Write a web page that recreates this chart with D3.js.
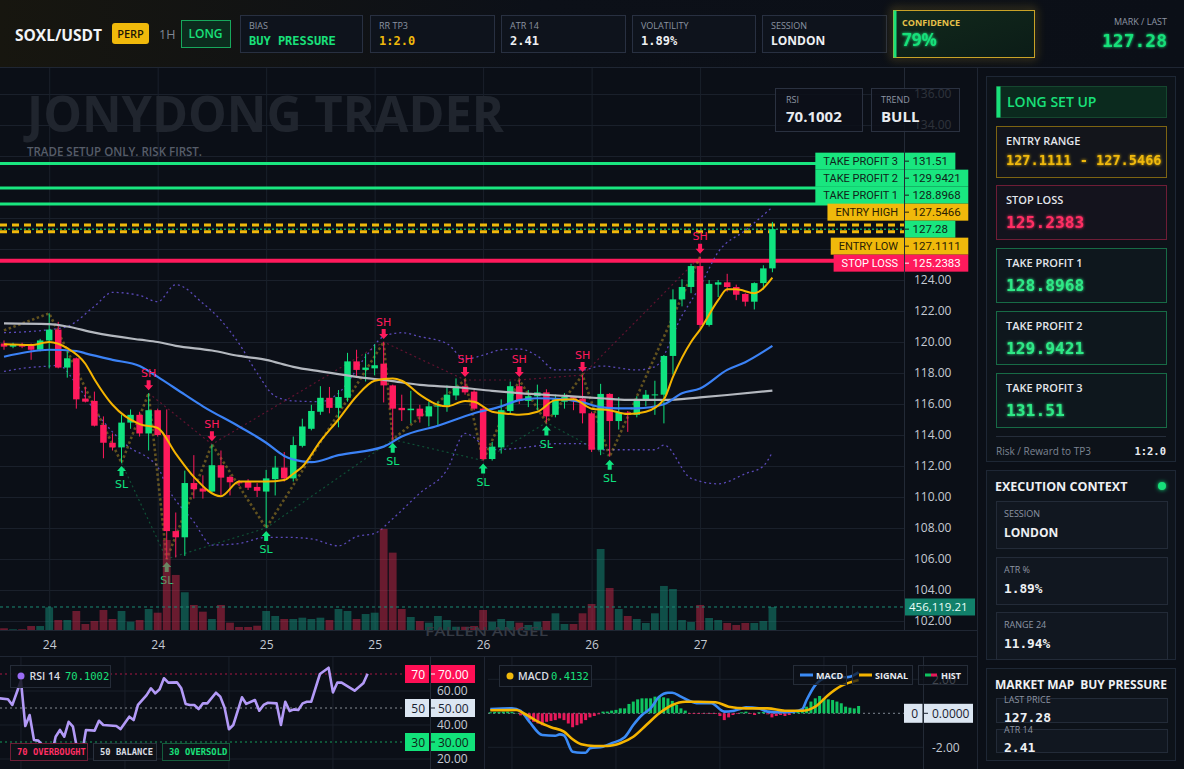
<!DOCTYPE html>
<html>
<head>
<meta charset="utf-8">
<script src="https://cdn.jsdelivr.net/npm/d3@7"></script>
<style>
body { margin: 0; background: #0b0f17; overflow: hidden; }
svg { display: block; }
</style>
</head>
<body>
<script>
//chart data (1H candles, index 0..85)
var opens = [119.9,119.7,119.85,119.76,119.5,120.1,120.8,118.35,118.95,116.35, 116.2,114.65,113.5,113.2,114.8,115.3,114.1,115.6,114.0,107.8, 107.4,110.9,110.55,110.35,112.05,111.3,110.95,111.0,110.65,110.35, 111.15,111.9,111.2,113.3,114.4,115.5,116.4,115.75,116.4,118.75, 118.2,118.3,118.6,117.2,115.75,115.6,115.7,115.2,115.85,115.9, 116.55,117.15,116.8,115.7,112.45,113.2,115.55,117.15,116.2,116.5, 116.75,115.3,116.15,116.45,116.35,115.4,113.05,116.65,114.9,115.45, 115.3,116.3,116.58,116.6,119.1,122.75,123.55,124.9,121.1,123.7, 123.85,123.55,123.1,122.6,123.8,124.75];
var highs = [120.1,119.95,119.95,119.9,120.2,121.85,121.3,119.4,119.0,117.1, 116.8,115.2,114.1,115.3,115.65,115.5,116.7,115.7,115.65,109.0, 111.7,112.7,111.4,113.4,113.0,111.4,111.1,111.15,110.9,111.75, 112.65,112.9,113.9,115.05,115.95,117.15,117.1,116.9,119.3,119.5, 119.25,119.85,120.0,117.25,116.6,116.85,115.95,116.15,116.15,117.2, 117.65,117.55,116.9,115.85,113.55,116.3,117.45,117.55,116.9,117.25, 116.95,116.6,116.7,116.5,117.87,115.5,117.3,116.7,116.45,115.55, 116.5,116.9,117.5,119.15,123.4,124.05,125.05,125.5,124.0,124.0, 124.4,123.7,123.15,123.85,124.95,127.75];
var lows = [119.5,119.6,119.6,118.85,119.4,118.3,118.3,117.7,115.7,116.1, 114.55,112.5,113.0,112.2,114.4,113.9,113.0,113.9,106.0,106.1, 106.2,109.9,109.9,110.3,110.1,110.1,110.7,110.45,110.0,108.0, 110.1,111.0,111.0,113.2,114.3,115.3,115.4,114.5,116.15,117.75, 117.45,117.85,116.1,113.7,114.9,114.75,114.8,114.55,114.6,115.5, 116.25,116.6,115.6,112.35,112.35,112.8,115.3,116.0,115.8,115.6, 114.8,115.14,115.7,115.6,114.75,112.9,112.7,112.6,114.35,114.2, 115.14,115.85,115.3,114.75,117.9,122.3,123.15,120.9,121.0,122.9, 123.25,122.7,122.3,122.1,123.4,124.5];
var closes = [119.7,119.85,119.7,119.5,120.1,120.8,118.35,118.95,116.3,116.15, 114.6,113.5,113.2,114.8,115.3,114.1,115.6,114.0,107.8,107.4, 110.9,110.5,110.35,112.05,111.25,110.95,110.9,110.6,110.4,111.2, 111.9,111.2,113.35,114.55,115.55,116.4,115.75,116.45,118.75,118.2, 118.35,118.5,117.2,115.7,115.6,115.7,115.2,115.85,115.9,116.6, 117.15,116.75,115.7,112.45,113.25,115.6,117.15,116.2,116.5,116.75, 115.2,116.3,116.45,116.35,115.4,113.05,116.65,114.9,115.45,115.3, 116.3,116.6,116.62,119.1,122.75,123.55,124.9,121.1,123.75,123.85, 123.55,123.05,122.6,123.8,124.75,127.28];
//volume in thousands
var volumes = [34,14,14,79,79,450,198,198,377,119, 178,397,218,377,165,198,416,343,1785,1091, 748,496,363,218,496,145,60,60,85,377, 278,218,218,244,218,244,198,416,377,218, 317,343,2003,1533,416,258,178,145,278,198, 65,65,79,397,165,218,178,145,99,165, 178,331,119,119,331,516,1606,833,416,278, 218,139,331,873,813,198,159,496,238,198, 139,99,139,139,178,456];
var avgVolume = 456.11921;
var avgVolumeLabel = "456,119.21";

//moving averages and bands (candle index, value)
var emaFastIdx = [0,3,5,7,9,10,12,15,17,19,21,24,26,29,31,32,33,35,37,39,41,43,44,46,48,49,51,52,54,56,57,59,61,63,65,67,69,71,73,74,76,77,79,80,81,83,85];
var emaFastVal = [119.85,119.8,120.0,119.6,118.6,117.6,115.95,114.7,114.45,112.8,111.3,110.05,111.0,111.0,111.1,111.5,111.95,113.6,115.0,116.5,117.5,117.65,117.5,116.6,115.95,115.85,116.2,116.15,115.5,115.35,115.3,115.5,116.25,116.3,115.7,115.6,115.35,115.5,116.3,117.75,120.0,120.8,122.7,123.4,123.4,123.15,124.15];
var emaMidIdx = [0,5,8,9,12,15,17,20,22,26,29,31,33,34,37,42,44,48,52,55,57,59,62,64,66,68,70,73,75,77,80,82,85];
var emaMidVal = [119.05,119.5,119.42,119.27,118.85,118.45,117.75,116.6,115.85,114.55,113.5,112.65,112.3,112.25,112.7,113.25,113.9,114.6,115.4,115.85,116.25,116.37,116.3,116.1,115.8,115.72,115.72,115.98,116.7,117.0,118.2,118.7,119.75];
var smaSlowIdx = [0,5,7,10,15,17,19,23,26,29,32,35,39,43,46,50,54,57,62,66,69,73,77,80,85];
var smaSlowVal = [121.2,121.15,121.0,120.6,120.15,120.0,119.75,119.45,119.1,118.85,118.4,118.1,117.75,117.48,117.23,117.08,116.85,116.7,116.52,116.37,116.26,116.26,116.43,116.58,116.86];
var bbUpIdx = [0,5,7,10,12,15,17,19,22,24,26,28,30,32,35,37,40,42,44,46,49,51,53,55,57,59,61,64,66,70,72,75,77,79,82,85];
var bbUpVal = [120.6,120.8,121.0,122.3,123.2,123.0,122.6,123.7,122.5,121.4,119.9,118.0,116.5,116.2,116.15,116.7,119.05,120.35,120.6,120.35,119.9,118.9,119.15,119.5,119.55,119.1,118.2,118.2,118.45,118.2,118.4,121.7,123.6,125.8,127.2,128.7];
var bbLowIdx = [0,2,5,6,8,10,14,16,17,18,21,23,26,29,31,34,37,39,41,43,46,49,51,54,56,59,61,64,66,72,73,76,79,82,84,85];
var bbLowVal = [118.1,118.3,118.45,118.5,117.3,115.6,113.15,112.5,111.95,110.7,108.4,106.9,107.0,107.4,107.4,107.3,106.85,107.45,107.65,108.6,110.25,111.75,114.1,113.05,113.1,113.3,113.45,113.45,113.05,113.05,113.35,111.2,110.85,111.5,112.0,112.9];

//swing points
var swingHighIdx = [16,23,42,51,57,64,77];
var swingLowIdx = [13,18,29,43,53,60,67];
var zigzagIdx = [0,5,13,16,18,23,29,42,43,51,53,57,60,64,67,77];
var zigzagVal = [120.75,121.85,112.2,116.7,106.0,113.4,108.0,120.0,113.7,117.55,112.35,117.55,114.8,117.87,112.6,125.5];

//trade levels
var levelNames = ["TAKE PROFIT 3","TAKE PROFIT 2","TAKE PROFIT 1","ENTRY HIGH","","ENTRY LOW","STOP LOSS"];
var levelPrices = [131.51,129.9421,128.8968,127.5466,127.28,127.1111,125.2383];
var levelLabels = ["131.51","129.9421","128.8968","127.5466","127.28","127.1111","125.2383"];
var levelKinds = ["tp","tp","tp","entry","last","entry","sl"];

//axes
var priceTicks = [102,104,106,108,110,112,114,116,118,120,122,124,126,128,130,132,134,136];
var timeTickIdx = [5,17,29,41,53,65,77];
var timeTickLabels = ["24","24","25","25","26","26","27"];
var paneGridIdx = [5,29,53,77];

//RSI 14
var rsiIdx = [0,2,3,5,6,7,8,9,11,12,13,14,15,16,17,18,19,20,22,23,24,27,28,30,31,32,34,35,36,37,38,39,41,42,43,44,45,46,47,48,50,51,52,53,54,56,57,59,60,61,62,64,65,66,67,68,69,70,71,72,74,76,77,78,79,82,84,85];
var rsiVal = [55.7,55.1,51.8,66.0,39.4,45.9,31.2,30.8,25.3,21.2,33.1,37.1,33.1,41.9,39.0,25.3,21.8,37.1,36.7,42.5,40.0,39.4,37.6,44.9,42.9,51.8,57.6,61.6,58.6,61.0,67.5,64.9,65.1,61.6,52.4,51.8,51.8,49.4,52.7,52.7,59.0,56.7,50.2,37.5,40.0,56.3,52.4,54.7,48.4,51.8,53.1,52.7,40.0,53.7,48.2,49.2,48.8,52.7,53.7,53.7,70.0,73.7,59.2,64.9,64.9,60.2,64.5,70.1];
var rsiLevels = [70, 50, 30];

//MACD
var macdIdx = [0,5,7,9,12,15,16,17,19,21,22,23,26,28,31,33,35,37,39,41,42,44,46,48,51,54,56,58,59,62,64,67,70,72,73,75,78,80,82,83,85];
var macdVal = [0.25,0.29,0.14,-0.49,-1.28,-1.32,-1.24,-1.3,-2.26,-2.32,-2.32,-2.06,-1.96,-1.76,-1.41,-0.69,-0.1,0.29,0.98,1.21,1.21,0.98,0.72,0.59,0.59,0.1,0.14,0.29,0.35,0.29,0.1,0.06,0.1,0.24,0.78,1.66,2.12,2.15,2.12,2.15,2.41];
var signalIdx = [0,6,8,11,14,17,19,21,24,27,30,33,36,39,42,45,48,52,55,59,64,68,72,75,78,81,85];
var signalVal = [0.18,0.19,-0.04,-0.49,-0.82,-1.08,-1.53,-1.82,-1.92,-1.92,-1.76,-1.38,-0.69,0.0,0.49,0.68,0.68,0.65,0.39,0.29,0.29,0.15,0.15,0.39,1.08,1.61,1.96];
var histVal = [0.06,0.08,0.08,0.1,0.1,0.08,0.02,-0.12,-0.16,-0.4, -0.5,-0.6,-0.7,-0.5,-0.45,-0.4,-0.3,-0.4,-0.6,-0.82, -0.7,-0.6,-0.4,-0.24,-0.16,-0.06,0.1,0.1,0.16,0.2, 0.29,0.29,0.55,0.69,0.82,0.88,0.88,0.88,0.98,1.02, 0.94,0.88,0.73,0.49,0.29,0.16,-0.04,-0.04,-0.04,-0.03, -0.03,-0.04,-0.04,-0.16,-0.4,-0.24,-0.1,-0.04,0.06,0.1, -0.04,-0.1,0.06,0.08,-0.06,-0.24,-0.16,-0.1,-0.16,-0.1, 0.1,0.16,0.24,0.39,0.69,0.88,1.02,0.88,0.82,0.78, 0.69,0.59,0.39,0.33,0.29,0.43];
var macdTicks = [-2, 2];

//header and side panel texts
var symbol = "SOXL/USDT";
var headerLabels = ["BIAS","RR TP3","ATR 14","VOLATILITY","SESSION"];
var headerValues = ["BUY PRESSURE","1:2.0","2.41","1.89%","LONDON"];
var confidence = "79%";
var lastPriceText = "127.28";
var setupLabels = ["ENTRY RANGE","STOP LOSS","TAKE PROFIT 1","TAKE PROFIT 2","TAKE PROFIT 3"];
var setupValues = ["127.1111 - 127.5466","125.2383","128.8968","129.9421","131.51"];
var contextLabels = ["SESSION","ATR %","RANGE 24"];
var contextValues = ["LONDON","1.89%","11.94%"];
var rsiText = "70.1002";
var macdText = "0.4132";

//colours and fonts
var UP = "#0fe37f";
var DOWN = "#ff1a5c";
var GOLD = "#f0b90b";
var UI = "'Open Sans','Noto Sans',sans-serif";
var MONO = "'DejaVu Sans Mono','Liberation Mono',monospace";
var LABEL = "Roboto,'Open Sans',sans-serif";
var GRID = "#1a202b";
var AXISTXT = "#c5cad3";

var svg = d3.select("body").append("svg").attr("width", 1184).attr("height", 769);
var defs = svg.append("defs");

function makeGlow(id, std) {
	var f = defs.append("filter").attr("id", id)
		.attr("x", "-40%").attr("y", "-60%").attr("width", "180%").attr("height", "220%");
	f.append("feGaussianBlur").attr("in", "SourceGraphic").attr("stdDeviation", std).attr("result", "b");
	var m = f.append("feMerge");
	m.append("feMergeNode").attr("in", "b");
	m.append("feMergeNode").attr("in", "SourceGraphic");
}
makeGlow("glow", 2.2);
makeGlow("glowSoft", 1.4);
var blur = defs.append("filter").attr("id", "blur").attr("x", "-20%").attr("y", "-40%").attr("width", "140%").attr("height", "180%");
blur.append("feGaussianBlur").attr("stdDeviation", 5);

var hg = defs.append("linearGradient").attr("id", "headGrad").attr("x1", 0).attr("x2", 1).attr("y1", 0).attr("y2", 0);
hg.append("stop").attr("offset", "0%").attr("stop-color", "#17160f");
hg.append("stop").attr("offset", "45%").attr("stop-color", "#0c1018");
hg.append("stop").attr("offset", "100%").attr("stop-color", "#0b0f17");
var cg = defs.append("linearGradient").attr("id", "confGrad").attr("x1", 0).attr("x2", 1).attr("y1", 0).attr("y2", 1);
cg.append("stop").attr("offset", "0%").attr("stop-color", "#12291c");
cg.append("stop").attr("offset", "100%").attr("stop-color", "#0b1c17");

function addText(g, x, y, str, size, fill, opt) {
	opt = opt || {};
	var t = g.append("text").attr("x", x).attr("y", y).text(str)
		.attr("font-family", opt.font || UI)
		.attr("font-size", size)
		.attr("fill", fill);
	if (opt.weight) t.attr("font-weight", opt.weight);
	if (opt.anchor) t.attr("text-anchor", opt.anchor);
	if (opt.filter) t.attr("filter", "url(#" + opt.filter + ")");
	if (opt.ls) t.attr("letter-spacing", opt.ls);
	if (opt.len) t.attr("textLength", opt.len).attr("lengthAdjust", "spacingAndGlyphs");
	return t;
}
function box(g, x, y, w, h, fill, stroke) {
	return g.append("rect").attr("x", x + 0.5).attr("y", y + 0.5).attr("width", w).attr("height", h)
		.attr("fill", fill).attr("stroke", stroke || "none");
}
function hline(g, x1, x2, y, col, w, dash) {
	var l = g.append("line").attr("x1", x1).attr("x2", x2).attr("y1", y).attr("y2", y)
		.attr("stroke", col).attr("stroke-width", w || 1);
	if (dash) l.attr("stroke-dasharray", dash);
	return l;
}
function vline(g, x, y1, y2, col, w) {
	return g.append("line").attr("x1", x).attr("x2", x).attr("y1", y1).attr("y2", y2)
		.attr("stroke", col).attr("stroke-width", w || 1);
}

//background and header
svg.append("rect").attr("width", 1184).attr("height", 769).attr("fill", "#0b0f17");
svg.append("rect").attr("width", 1184).attr("height", 67).attr("fill", "url(#headGrad)");
var head = svg.append("g");
addText(head, 15, 41, symbol, 15.5, "#f2f4f7", {weight: 700});
head.append("rect").attr("x", 112).attr("y", 23).attr("width", 37).attr("height", 21).attr("rx", 3).attr("fill", GOLD);
addText(head, 130.5, 37.5, "PERP", 11, "#1d1606", {anchor: "middle", weight: 600});
addText(head, 159, 38.5, "1H", 12.5, "#7f8794");
box(head, 181, 20, 49, 27, "#0c2c1e", "#17a85c");
addText(head, 205.5, 38, "LONG", 12, "#19e07a", {anchor: "middle", weight: 600});

var headBoxX = [240, 370, 501, 632, 762];
var headBoxW = [122, 124, 124, 123, 124];
var headValCol = ["#19e07a", GOLD, "#eef0f3", "#eef0f3", "#eef0f3"];
headerLabels.forEach(function(lab, i) {
	box(head, headBoxX[i], 15, headBoxW[i], 37, "#0e131c", "#283041");
	addText(head, headBoxX[i] + 9, 28.5, lab, 9, "#8b93a1");
	var mono = i < 4;
	addText(head, headBoxX[i] + 9, 44.5, headerValues[i], 12, headValCol[i],
		{font: mono ? MONO : UI, weight: 700});
});
//confidence card with gold glow
head.append("rect").attr("x", 893).attr("y", 10).attr("width", 141).attr("height", 47)
	.attr("fill", "none").attr("stroke", "#c9a227").attr("stroke-width", 3).attr("opacity", 0.5).attr("filter", "url(#blur)");
box(head, 893, 10, 141, 47, "url(#confGrad)", "#c9a227");
head.append("rect").attr("x", 893.5).attr("y", 10.5).attr("width", 3).attr("height", 47).attr("fill", "#19e07a");
addText(head, 902, 26, "CONFIDENCE", 9, "#e6c14a", {weight: 700});
addText(head, 902, 45.5, confidence, 17, "#19e07a", {weight: 700, filter: "glowSoft"});
addText(head, 1167, 25, "MARK / LAST", 9, "#8d95a3", {anchor: "end"});
addText(head, 1167, 47, lastPriceText, 18, "#19e07a", {anchor: "end", font: MONO, weight: 700, filter: "glowSoft"});

//scales
var priceY = d3.scaleLinear().domain([102, 136]).range([621, 94]);
var candleX = d3.scaleLinear().domain([0, 85]).range([4, 772.4]);
var volY = d3.scaleLinear().domain([0, 2200]).range([630, 519]);
var rsiX = d3.scaleLinear().domain([0, 85]).range([-0.7, 367.6]);
var rsiY = d3.scaleLinear().domain([20, 70]).range([759, 674]);
var macdX = d3.scaleLinear().domain([0, 85]).range([490.3, 858.6]);
var macdY = d3.scaleLinear().domain([-2, 2]).range([747.3, 679.3]);
var step = candleX(1) - candleX(0);

//level label stack sits around the last price
var lastK = levelKinds.indexOf("last");
var lastY = priceY(levelPrices[lastK]);
var stackTop = lastY - lastK * 17 - 8.5;
var stackBottom = lastY + (levelPrices.length - 1 - lastK) * 17 + 8.5;

//main chart grid
var grid = svg.append("g");
grid.append("g").call(d3.axisLeft(priceY).tickValues(priceTicks).tickSize(-904).tickFormat(""));
grid.append("g").attr("transform", "translate(0,630)")
	.call(d3.axisBottom(candleX).tickValues(timeTickIdx).tickSize(-563).tickFormat(""));
grid.selectAll(".domain").remove();
grid.selectAll(".tick line").attr("stroke", GRID);

//watermark
addText(svg, 27, 132, "JONYDONG TRADER", 50, "#20252e", {weight: 700, len: 477});
addText(svg, 27, 156, "TRADE SETUP ONLY. RISK FIRST.", 12.5, "#565d69", {weight: 600, len: 175});

defs.append("clipPath").attr("id", "plotClip").append("rect")
	.attr("x", 0).attr("y", 67).attr("width", 904).attr("height", 563);
var plot = svg.append("g").attr("clip-path", "url(#plotClip)");

//trade level lines (under the candles)
var levelColor = {tp: "#19e67f", entry: GOLD, last: "#19e67f", sl: "#ff1a5c"};
levelPrices.forEach(function(p, k) {
	var kind = levelKinds[k];
	var y = priceY(p);
	if (kind == "tp") hline(plot, 0, 904, y, levelColor.tp, 3);
	if (kind == "entry") hline(plot, 0, 904, y, GOLD, 3, "7,5");
	if (kind == "last") hline(plot, 0, 904, y, levelColor.last, 1, "2,2");
	if (kind == "sl") hline(plot, 0, 904, y, levelColor.sl, 4);
});

//bollinger bands
var line = function(xs, ys) {
	return d3.line().x(function(d) { return xs(d[0]); }).y(function(d) { return ys(d[1]); }).curve(d3.curveMonotoneX);
};
var straight = function(xs, ys) {
	return d3.line().x(function(d) { return xs(d[0]); }).y(function(d) { return ys(d[1]); });
};
[[bbUpIdx, bbUpVal], [bbLowIdx, bbLowVal]].forEach(function(b) {
	plot.append("path").datum(d3.zip(b[0], b[1])).attr("d", line(candleX, priceY))
		.attr("fill", "none").attr("stroke", "#5a49b8").attr("stroke-width", 1.3).attr("stroke-dasharray", "2,3");
});

//swing trend lines and zigzag
plot.append("path").datum(swingHighIdx.map(function(i) { return [i, highs[i]]; }))
	.attr("d", straight(candleX, priceY)).attr("fill", "none")
	.attr("stroke", "#ff1a5c").attr("stroke-opacity", 0.35).attr("stroke-width", 1.2).attr("stroke-dasharray", "2,3");
plot.append("path").datum(swingLowIdx.map(function(i) { return [i, lows[i]]; }))
	.attr("d", straight(candleX, priceY)).attr("fill", "none")
	.attr("stroke", "#19e67f").attr("stroke-opacity", 0.3).attr("stroke-width", 1.2).attr("stroke-dasharray", "2,3");
plot.append("path").datum(d3.zip(zigzagIdx, zigzagVal))
	.attr("d", straight(candleX, priceY)).attr("fill", "none")
	.attr("stroke", "#c9a227").attr("stroke-opacity", 0.45).attr("stroke-width", 2.6).attr("stroke-dasharray", "2.5,2.5");

//candles
var bodyW = step * 0.72;
var candles = plot.append("g");
candles.selectAll("line").data(closes).enter().append("line")
	.attr("x1", function(d, i) { return candleX(i); })
	.attr("x2", function(d, i) { return candleX(i); })
	.attr("y1", function(d, i) { return priceY(highs[i]); })
	.attr("y2", function(d, i) { return priceY(lows[i]); })
	.attr("stroke", function(d, i) { return d >= opens[i] ? UP : DOWN; })
	.attr("stroke-width", 1);
candles.selectAll("rect").data(closes).enter().append("rect")
	.attr("x", function(d, i) { return candleX(i) - bodyW / 2; })
	.attr("width", bodyW)
	.attr("y", function(d, i) { return priceY(Math.max(d, opens[i])); })
	.attr("height", function(d, i) { return Math.max(1, Math.abs(priceY(d) - priceY(opens[i]))); })
	.attr("fill", function(d, i) { return d >= opens[i] ? UP : DOWN; });

//moving averages
plot.append("path").datum(d3.zip(smaSlowIdx, smaSlowVal)).attr("d", line(candleX, priceY))
	.attr("fill", "none").attr("stroke", "#b4b8bf").attr("stroke-width", 2.2);
plot.append("path").datum(d3.zip(emaMidIdx, emaMidVal)).attr("d", line(candleX, priceY))
	.attr("fill", "none").attr("stroke", "#3b82f6").attr("stroke-width", 2.2);
plot.append("path").datum(d3.zip(emaFastIdx, emaFastVal)).attr("d", line(candleX, priceY))
	.attr("fill", "none").attr("stroke", "#f5b400").attr("stroke-width", 2);

//swing markers
var markers = plot.append("g").attr("font-family", "'DejaVu Sans',sans-serif").attr("font-size", 11);
swingHighIdx.forEach(function(i) {
	var x = candleX(i), y = priceY(highs[i]) - 3;
	markers.append("path").attr("fill", DOWN)
		.attr("d", "M" + x + "," + y + "l-4.5,-5h2.5v-5h4v5h2.5z");
	markers.append("text").attr("x", x).attr("y", y - 13.5).attr("text-anchor", "middle").attr("fill", DOWN).text("SH");
});
swingLowIdx.forEach(function(i) {
	var x = candleX(i), y = priceY(lows[i]) + 3;
	markers.append("path").attr("fill", UP)
		.attr("d", "M" + x + "," + y + "l-4.5,5h2.5v5h4v-5h2.5z");
	markers.append("text").attr("x", x).attr("y", y + 22).attr("text-anchor", "middle").attr("fill", UP).text("SL");
});

//volume on top, semi transparent
plot.selectAll("rect.vol").data(volumes).enter().append("rect").attr("class", "vol")
	.attr("x", function(d, i) { return candleX(i) - step * 0.43; })
	.attr("width", step * 0.86)
	.attr("y", function(d) { return volY(d); })
	.attr("height", function(d) { return 630 - volY(d); })
	.attr("fill", function(d, i) { return closes[i] >= opens[i] ? "#14907a" : "#c82848"; })
	.attr("fill-opacity", 0.5);
hline(plot, 0, 904, volY(avgVolume), "#1b8a74", 1, "3,3");

//frame lines
var frame = svg.append("g");
vline(frame, 904.5, 67, 630, "#232a36");
hline(frame, 0, 977, 630.5, "#1f2633");
hline(frame, 0, 977, 656.5, "#1f2633");
hline(frame, 0, 1184, 67.5, "#1f2633");
vline(frame, 977.5, 67, 769, "#1f2633");

//price axis, labels hidden where the level stack covers them
var visibleTicks = priceTicks.filter(function(p) {
	var y = priceY(p);
	return y < stackTop - 6 || y > stackBottom + 6;
});
var pax = svg.append("g").attr("transform", "translate(904,0)")
	.call(d3.axisRight(priceY).tickValues(visibleTicks).tickSize(0).tickPadding(10).tickFormat(d3.format(".2f")));
pax.select(".domain").remove();
pax.selectAll("text").attr("font-family", UI).attr("font-size", 12).attr("fill", AXISTXT);

//time axis
var tax = svg.append("g").attr("transform", "translate(0,630)")
	.call(d3.axisBottom(candleX).tickValues(timeTickIdx).tickSize(0).tickPadding(10)
		.tickFormat(function(d, i) { return timeTickLabels[i]; }));
tax.select(".domain").remove();
tax.selectAll("text").attr("font-family", UI).attr("font-size", 12).attr("fill", AXISTXT);
addText(svg, 425, 636, "FALLEN ANGEL", 12, "#353a44", {weight: 600, len: 123});

//volume average label
var vy = volY(avgVolume);
svg.append("rect").attr("x", 905).attr("y", vy - 8.5).attr("width", 70).attr("height", 17).attr("fill", "#11806a");
addText(svg, 909, vy + 4, avgVolumeLabel, 11.5, "#e9fff8");

//level labels
var labelG = svg.append("g");
levelPrices.forEach(function(p, k) {
	var kind = levelKinds[k];
	var cy = lastY + (k - lastK) * 17;
	var col = levelColor[kind];
	var tc = kind == "sl" ? "#ffffff" : "#10231a";
	if (kind == "entry") tc = "#2a2104";
	var g = labelG.append("g");
	if (levelNames[k] != "") {
		var r = g.append("rect");
		var t = addText(g, 898, cy + 4, levelNames[k], 11, tc, {anchor: "end", font: LABEL});
		var w = t.node().getComputedTextLength();
		r.attr("x", 904 - w - 14).attr("y", cy - 8.5).attr("width", w + 14).attr("height", 17).attr("fill", col);
	}
	var r2 = g.append("rect");
	var t2 = addText(g, 912.5, cy + 4, levelLabels[k], 11.5, tc, {font: LABEL});
	var w2 = t2.node().getComputedTextLength();
	r2.attr("x", 905).attr("y", cy - 8.5).attr("width", w2 + 15).attr("height", 17).attr("fill", col);
	hline(g, 905, 909, cy, tc, 1);
});

//RSI / TREND info cards
var infoG = svg.append("g");
box(infoG, 775, 88, 87, 43, "rgba(12,16,24,0.82)", "#2a3140");
addText(infoG, 786, 103, "RSI", 9, "#8d95a3");
addText(infoG, 786, 121.5, rsiText, 15, "#e8ebf0", {weight: 700});
box(infoG, 871, 88, 88, 43, "rgba(12,16,24,0.82)", "#2a3140");
addText(infoG, 881, 103, "TREND", 9, "#8d95a3");
addText(infoG, 881, 121.5, "BULL", 15, "#e8ebf0", {weight: 700});

//RSI pane
var rsiG = svg.append("g");
defs.append("clipPath").attr("id", "rsiClip").append("rect").attr("x", 0).attr("y", 657).attr("width", 430).attr("height", 112);
var rsiPlot = rsiG.append("g").attr("clip-path", "url(#rsiClip)");
[20, 40, 60].forEach(function(v) { hline(rsiPlot, 0, 430, rsiY(v), GRID); });
paneGridIdx.forEach(function(i) { vline(rsiPlot, rsiX(i), 657, 769, GRID); });
var rsiLevelCol = ["#ff1a5c", "#c9ced6", "#19e67f"];
rsiLevels.forEach(function(v, k) {
	hline(rsiPlot, 0, 430, rsiY(v), rsiLevelCol[k], 1, "2,3").attr("stroke-opacity", 0.65);
});
rsiPlot.append("path").datum(d3.zip(rsiIdx, rsiVal)).attr("d", straight(rsiX, rsiY))
	.attr("fill", "none").attr("stroke", "#b39af7").attr("stroke-width", 2.6).attr("stroke-linejoin", "round");
vline(rsiG, 430.5, 656, 769, "#232a36");
var rax = rsiG.append("g").attr("transform", "translate(430,0)")
	.call(d3.axisRight(rsiY).tickValues([20, 40, 60]).tickSize(0).tickPadding(7).tickFormat(d3.format(".2f")));
rax.select(".domain").remove();
rax.selectAll("text").attr("font-family", UI).attr("font-size", 12).attr("fill", AXISTXT);
var rsiBoxFill = ["#ff0f55", "#dce6f2", "#12e27a"];
var rsiBoxText = ["#ffffff", "#1a2230", "#0f2418"];
rsiLevels.forEach(function(v, k) {
	var cy = rsiY(v);
	rsiG.append("rect").attr("x", 405).attr("y", cy - 9).attr("width", 24).attr("height", 18).attr("fill", rsiBoxFill[k]);
	rsiG.append("rect").attr("x", 431).attr("y", cy - 9).attr("width", 44).attr("height", 18).attr("fill", rsiBoxFill[k]);
	addText(rsiG, 425, cy + 4.5, String(v), 12, rsiBoxText[k], {anchor: "end"});
	addText(rsiG, 438, cy + 4.5, v.toFixed(2), 12, rsiBoxText[k]);
	hline(rsiG, 431, 435, cy, rsiBoxText[k]);
});
box(rsiG, 10, 665, 100, 22, "rgba(13,17,25,0.85)", "#252c38");
rsiG.append("circle").attr("cx", 21).attr("cy", 676).attr("r", 3.5).attr("fill", "#9b6cf5");
addText(rsiG, 29.5, 680, "RSI 14", 10.5, "#d9dde3", {weight: 600});
addText(rsiG, 65, 680, rsiText, 10.5, "#19e07a", {font: MONO});
var badgeX = [10, 93, 162], badgeW = [77, 63, 67];
var badgeText = ["70 OVERBOUGHT", "50 BALANCE", "30 OVERSOLD"];
var badgeStroke = ["#6e1d36", "#2a313d", "#145c3c"];
var badgeCol = ["#ff2e63", "#d9dde3", "#19e07a"];
badgeText.forEach(function(s, k) {
	box(rsiG, badgeX[k], 743, badgeW[k], 17, "#0e1118", badgeStroke[k]);
	addText(rsiG, badgeX[k] + 7, 755, s, 8.8, badgeCol[k], {font: MONO, weight: 700});
});
vline(svg, 484.5, 656, 769, "#1f2633");

//MACD pane
var macdG = svg.append("g");
defs.append("clipPath").attr("id", "macdClip").append("rect").attr("x", 488).attr("y", 657).attr("width", 435).attr("height", 112);
var macdPlot = macdG.append("g").attr("clip-path", "url(#macdClip)");
macdTicks.forEach(function(v) { hline(macdPlot, 488, 923, macdY(v), GRID); });
paneGridIdx.forEach(function(i) { vline(macdPlot, macdX(i), 657, 769, GRID); });
hline(macdPlot, 488, 923, macdY(0), "#7d8591", 1, "2,3");
macdPlot.selectAll("rect").data(histVal).enter().append("rect")
	.attr("x", function(d, i) { return macdX(i) - 1.5; })
	.attr("width", 3)
	.attr("y", function(d) { return Math.min(macdY(d), macdY(0)); })
	.attr("height", function(d) { return Math.abs(macdY(d) - macdY(0)); })
	.attr("fill", function(d) { return d >= 0 ? "#0fc460" : "#e8185a"; });
macdPlot.append("path").datum(d3.zip(macdIdx, macdVal)).attr("d", line(macdX, macdY))
	.attr("fill", "none").attr("stroke", "#3b8bf6").attr("stroke-width", 2.6);
macdPlot.append("path").datum(d3.zip(signalIdx, signalVal)).attr("d", line(macdX, macdY))
	.attr("fill", "none").attr("stroke", "#f5b400").attr("stroke-width", 2.6);
vline(macdG, 923.5, 656, 769, "#232a36");
var max = macdG.append("g").attr("transform", "translate(923,0)")
	.call(d3.axisRight(macdY).tickValues(macdTicks).tickSize(0).tickPadding(9)
		.tickFormat(function(d) { return d.toFixed(2); }));
max.select(".domain").remove();
max.selectAll("text").attr("font-family", UI).attr("font-size", 12).attr("fill", AXISTXT);
var zy = macdY(0);
macdG.append("rect").attr("x", 904).attr("y", zy - 9.5).attr("width", 18.5).attr("height", 19).attr("fill", "#dce6f2");
macdG.append("rect").attr("x", 924).attr("y", zy - 9.5).attr("width", 49).attr("height", 19).attr("fill", "#dce6f2");
addText(macdG, 918, zy + 4.5, "0", 12, "#1a2230", {anchor: "end"});
addText(macdG, 932, zy + 4.5, "0.0000", 12, "#1a2230");
hline(macdG, 924, 928, zy, "#1a2230");
box(macdG, 499, 665, 92, 21, "rgba(13,17,25,0.85)", "#252c38");
macdG.append("circle").attr("cx", 510).attr("cy", 676).attr("r", 3.5).attr("fill", GOLD);
addText(macdG, 518, 680, "MACD", 10.5, "#d9dde3", {weight: 600});
addText(macdG, 551, 680, macdText, 10.5, "#19e07a", {font: MONO});
var legX = [793, 852, 918], legW = [53, 60, 49];
var legName = ["MACD", "SIGNAL", "HIST"];
var legCol = ["#3b8bf6", "#f5b400", null];
legName.forEach(function(s, k) {
	box(macdG, legX[k], 665, legW[k], 19, "rgba(13,17,25,0.72)", "#252c38");
	if (legCol[k]) {
		hline(macdG, legX[k] + 7, legX[k] + 20, 675, legCol[k], 3);
	} else {
		hline(macdG, legX[k] + 7, legX[k] + 13, 675, "#0fc460", 3);
		hline(macdG, legX[k] + 13, legX[k] + 19, 675, "#e8185a", 3);
	}
	addText(macdG, legX[k] + 23, 678.5, s, 9, "#e8ebf0", {weight: 700});
});

//right side panel: long setup
var side = svg.append("g");
box(side, 986, 76, 189, 385, "#0d1219", "#1e2735");
box(side, 996, 86, 170, 31, "#0b2a1e", "#15472f");
side.append("rect").attr("x", 996.5).attr("y", 86.5).attr("width", 4).attr("height", 31).attr("fill", "#19e07a");
addText(side, 1007, 107, "LONG SET UP", 14, "#19e07a", {weight: 600});
var cardY = [126, 185, 248, 311, 373];
var cardH = [51, 54, 54, 53, 54];
var cardStroke = ["#7d6412", "#6e1d36", "#176b46", "#176b46", "#176b46"];
var cardFill = ["#13151b", "#14131d", "#0e171d", "#0e171d", "#0e171d"];
var cardVal = [GOLD, "#ff2e63", "#2ee886", "#2ee886", "#2ee886"];
setupLabels.forEach(function(lab, i) {
	box(side, 996, cardY[i], 170, cardH[i], cardFill[i], cardStroke[i]);
	addText(side, 1006, cardY[i] + 19, lab, 11, "#e3e6eb", {weight: 600});
	addText(side, 1006, cardY[i] + (i == 0 ? 38.5 : 42.5), setupValues[i], i == 0 ? 13.6 : 16.3, cardVal[i],
		{font: MONO, weight: 700, filter: "glowSoft"});
});
hline(side, 996, 1166, 436.5, "#252d3a");
addText(side, 996, 454.5, "Risk / Reward to TP3", 10, "#7d8593");
addText(side, 1166, 454.5, "1:2.0", 10.5, "#e8ebf0", {anchor: "end", font: MONO, weight: 700});

//execution context
box(side, 986, 470, 189, 189, "#0e141c", "#1e2735");
addText(side, 995, 490.5, "EXECUTION CONTEXT", 12.5, "#eef0f3", {weight: 700});
side.append("circle").attr("cx", 1162).attr("cy", 486).attr("r", 4).attr("fill", "#19e07a").attr("filter", "url(#glow)");
var ctxY = [501, 557, 612];
contextLabels.forEach(function(lab, i) {
	box(side, 996, ctxY[i], 171, 47, "#111720", "#232b38");
	addText(side, 1004, ctxY[i] + 16, lab, 9, "#8d95a3");
	addText(side, 1004, ctxY[i] + 36, contextValues[i], i == 0 ? 12 : 12.8, "#eef0f3",
		{font: i == 0 ? UI : MONO, weight: 700});
});
svg.append("rect").attr("x", 986).attr("y", 660).attr("width", 190).attr("height", 8).attr("fill", "#0b0f17");

//market map
box(side, 986, 668, 189, 92, "#0d1219", "#1e2735");
addText(side, 995, 688.5, "MARKET MAP", 12, "#eef0f3", {weight: 700});
addText(side, 1167, 688.5, "BUY PRESSURE", 12, "#eef0f3", {weight: 700, anchor: "end"});
box(side, 996, 698, 171, 24, "#111720", "#232b38");
addText(side, 1004, 702.5, "LAST PRICE", 9, "#8d95a3");
addText(side, 1004, 721.5, lastPriceText, 13, "#eef0f3", {font: MONO, weight: 700});
box(side, 996, 729, 171, 23, "#111720", "#232b38");
addText(side, 1004, 733, "ATR 14", 9, "#8d95a3");
addText(side, 1004, 751.5, headerValues[2], 13, "#eef0f3", {font: MONO, weight: 700});
</script>
</body>
</html>
